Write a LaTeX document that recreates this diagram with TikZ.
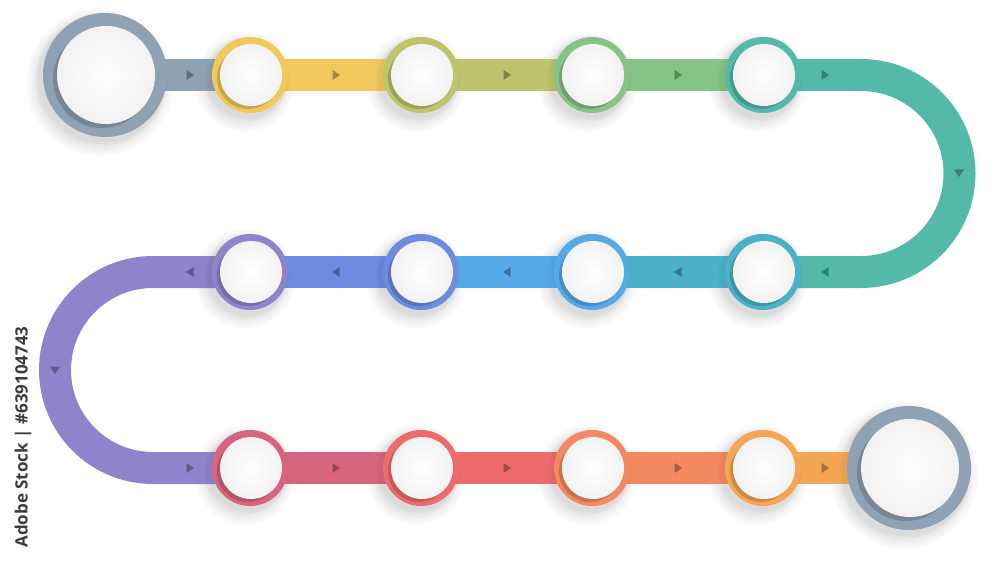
\documentclass[tikz,border=0pt]{standalone}
\usepackage{fontspec}
\newfontfamily\wmfont{Open Sans}
\usetikzlibrary{calc}
\definecolor{cgray}{HTML}{8FA2B4}
\definecolor{cy1}{HTML}{F1C85B}
\definecolor{cy2}{HTML}{BDC46B}
\definecolor{cy3}{HTML}{86C385}
\definecolor{cy4}{HTML}{53BAAA}
\definecolor{cy5}{HTML}{4BB1C9}
\definecolor{cy6}{HTML}{56A9E7}
\definecolor{cy7}{HTML}{6D8BE0}
\definecolor{cy8}{HTML}{8F83CC}
\definecolor{cy9}{HTML}{D8657F}
\definecolor{cy10}{HTML}{EE6B6C}
\definecolor{cy11}{HTML}{F38861}
\definecolor{cy12}{HTML}{F5A653}
\definecolor{diskedge}{HTML}{F2F2F2}
\definecolor{wmgray}{HTML}{3C3C3C}
\pgfdeclarelayer{bg}
\pgfsetlayers{bg,main}
\tikzset{
  bandseg/.style={line width=32pt},
  ringsm/.style={circle, minimum size=76pt, inner sep=0pt},
  ringbig/.style={circle, minimum size=124pt, inner sep=0pt},
  disksm/.style={circle, minimum size=62pt, inner sep=0pt, inner color=white, outer color=diskedge},
  diskbig/.style={circle, minimum size=98pt, inner sep=0pt, inner color=white, outer color=diskedge},
  tri/.style={fill=black, fill opacity=0.32},
  softshadow/.style={fill=black, opacity=0.016},
}
\begin{document}
\begin{tikzpicture}[x=1pt,y=1pt]
\useasboundingbox (0,0) rectangle (1000,-564);

% big end circles
\foreach \n/\x/\y in {s/105/75, e/909/468}{
  \node[ringbig, fill=cgray] (\n) at (\x,-\y) {};
  \fill[black, opacity=0.17] ($(\n)+(-3,-4)$) circle (49);
  \node[diskbig] (\n d) at ($(\n)+(1,0)$) {};
}
% small step circles
\foreach \n/\x/\y/\c in {c1/250/75/cy1, c2/421/75/cy2, c3/592/75/cy3, c4/763/75/cy4,
  c5/763/272/cy5, c6/592/272/cy6, c7/421/272/cy7, c8/250/272/cy8,
  c9/250/468/cy9, c10/421/468/cy10, c11/592/468/cy11, c12/763/468/cy12}{
  \node[ringsm, fill=\c] (\n) at (\x,-\y) {};
  \fill[black, opacity=0.17] ($(\n)+(-2,-3)$) circle (31);
  \node[disksm] (\n d) at ($(\n)+(1,0)$) {};
}

\coordinate (ra) at (861,-75);
\coordinate (la) at (153,-272);

\begin{pgfonlayer}{bg}
  \fill[white] (0,0) rectangle (1000,-564);
  % soft shadows
  \foreach \n/\r in {s/62, e/62, c1/38, c2/38, c3/38, c4/38, c5/38, c6/38, c7/38, c8/38, c9/38, c10/38, c11/38, c12/38}{
    \foreach \k in {1,...,6}{
      \fill[softshadow] ($(\n)+(-5,-7)$) circle ({\r+2*\k});
    }
  }
  \draw[bandseg, cgray] (s.center) -- (c1.center);
  \draw[bandseg, cy1] (c1.center) -- (c2.center);
  \draw[bandseg, cy2] (c2.center) -- (c3.center);
  \draw[bandseg, cy3] (c3.center) -- (c4.center);
  \draw[bandseg, cy4] (c4.center) -- (ra) arc[start angle=90, end angle=-90, radius=98.5] -- (c5.center);
  \draw[bandseg, cy5] (c5.center) -- (c6.center);
  \draw[bandseg, cy6] (c6.center) -- (c7.center);
  \draw[bandseg, cy7] (c7.center) -- (c8.center);
  \draw[bandseg, cy8] (c8.center) -- (la) arc[start angle=90, end angle=270, radius=98] -- (c9.center);
  \draw[bandseg, cy9] (c9.center) -- (c10.center);
  \draw[bandseg, cy10] (c10.center) -- (c11.center);
  \draw[bandseg, cy11] (c11.center) -- (c12.center);
  \draw[bandseg, cy12] (c12.center) -- (e.center);
  % shadows of rings on the bands
  \foreach \n/\r in {s/62, e/62, c1/38, c2/38, c3/38, c4/38, c5/38, c6/38, c7/38, c8/38, c9/38, c10/38, c11/38, c12/38}{
    \foreach \k in {1,2,3}{
      \fill[softshadow] ($(\n)+(-3,-4)$) circle ({\r+1.5*\k});
    }
  }
\end{pgfonlayer}

% direction arrowheads
\foreach \x/\y/\d in {190/75/0, 336/75/0, 507/75/0, 678/75/0, 825/75/0,
  959/173/-90,
  825/272/180, 678/272/180, 507/272/180, 336/272/180, 190/272/180,
  55/370/-90,
  190/468/0, 336/468/0, 507/468/0, 678/468/0, 825/468/0}{
  \fill[tri, shift={(\x,-\y)}, rotate=\d] (-3.5,-5) -- (4,0) -- (-3.5,5) -- cycle;
}

\node[rotate=90, text=wmgray, font=\wmfont\bfseries\fontsize{17}{17}\selectfont] (wm) at (23,-437) {Adobe Stock | \#639104743};
\end{tikzpicture}
\end{document}
